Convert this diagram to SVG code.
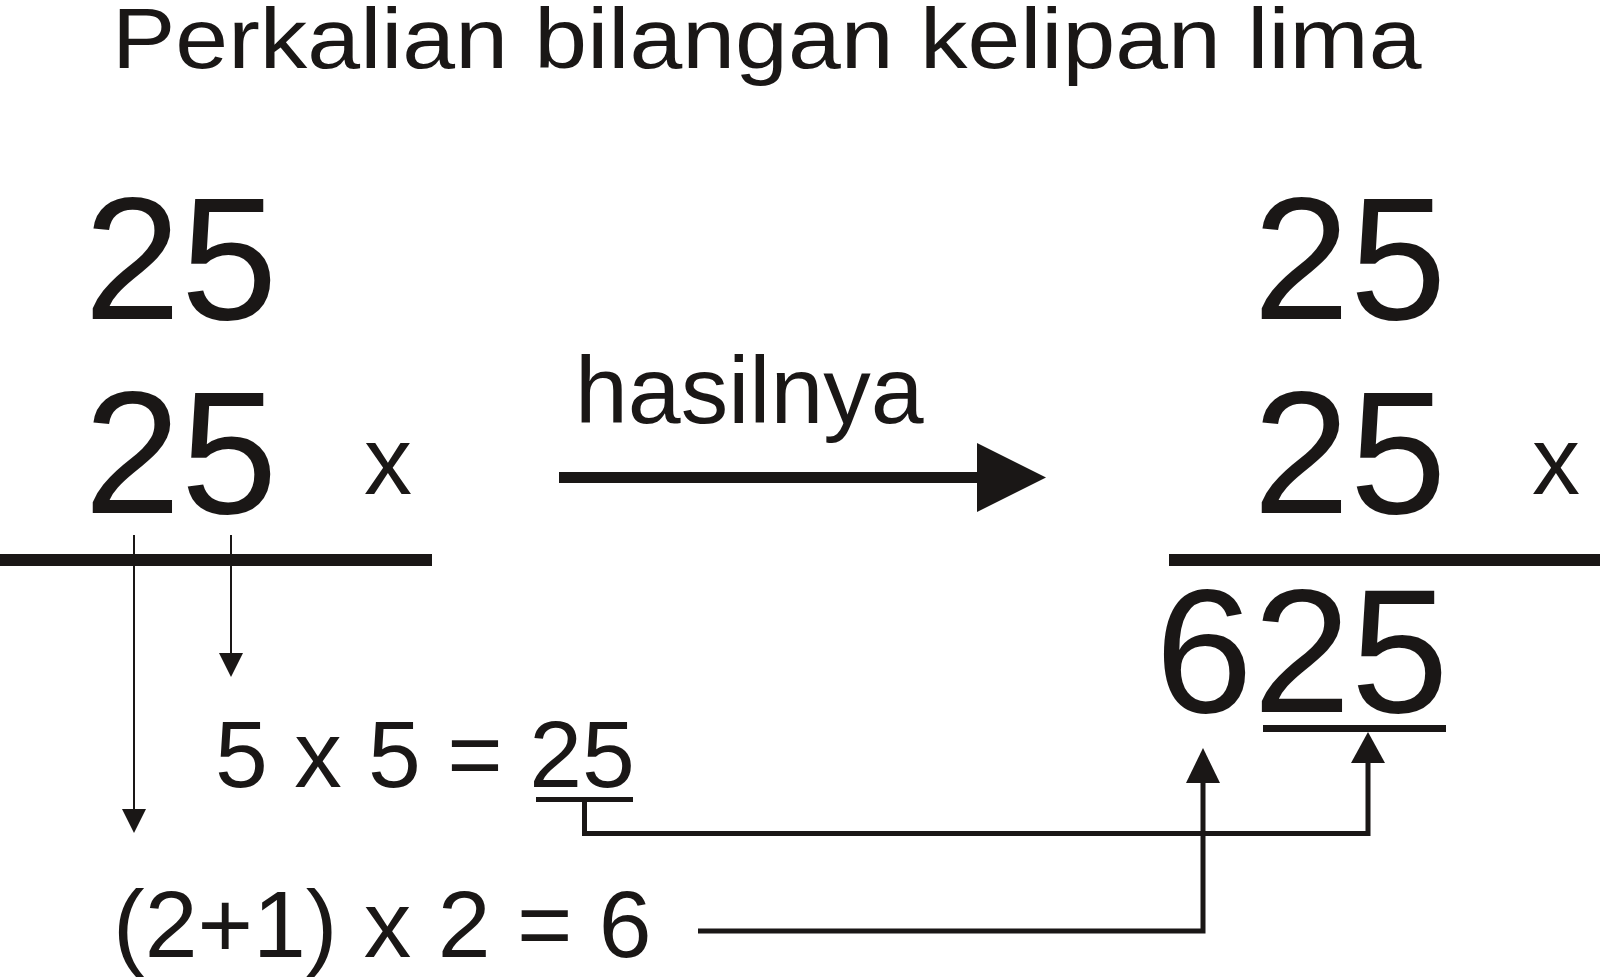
<svg xmlns="http://www.w3.org/2000/svg" width="1600" height="977" viewBox="0 0 1600 977">
<style>
.t{font-family:"Liberation Sans",Arial,sans-serif;fill:#1a1716}
.big{font-size:174px}
.mid{font-size:95px}
.ln{stroke:#1a1716;fill:none}
.ah{fill:#1a1716}
</style>
<rect width="1600" height="977" fill="#fff"/>
<g id="title"><text class="t" transform="translate(112,68) scale(1,0.9)" x="0" y="0" font-size="95">Perkalian bilangan kelipan lima</text></g>
<g id="left-sum">
<text class="t big" x="84" y="319">25</text>
<text class="t big" x="84" y="513">25</text>
<text class="t" x="364" y="494" font-size="96">x</text>
<rect x="0" y="554" width="432" height="12" fill="#1a1716"/>
</g>
<g id="right-sum">
<text class="t big" x="1253" y="319">25</text>
<text class="t big" x="1253" y="513">25</text>
<text class="t" x="1532" y="494" font-size="96">x</text>
<rect x="1169" y="554" width="431" height="12" fill="#1a1716"/>
<text class="t" x="1155" y="712" font-size="176">625</text>
<rect x="1263" y="725" width="183" height="7" fill="#1a1716"/>
</g>
<g id="result-arrow">
<text class="t mid" x="575" y="423">hasilnya</text>
<rect x="559" y="472" width="420" height="11" fill="#1a1716"/>
<polygon class="ah" points="977,443 1046,477.5 977,512"/>
</g>
<g id="step1">
<text class="t mid" x="215" y="787">5 x 5 = 25</text>
<rect x="536" y="797" width="97" height="5" fill="#1a1716"/>
</g>
<g id="step2">
<text class="t mid" x="113" y="957">(2+1) x 2 = 6</text>
</g>
<g id="connectors">
<line class="ln" x1="134" y1="535" x2="134" y2="812" stroke-width="2"/>
<polygon class="ah" points="122,809 146,809 134,833"/>
<line class="ln" x1="231" y1="535" x2="231" y2="656" stroke-width="2"/>
<polygon class="ah" points="219,653 243,653 231,677"/>
<polyline class="ln" points="584.5,802 584.5,833.5 1368,833.5 1368,760" stroke-width="5"/>
<polygon class="ah" points="1351,763 1385,763 1368,732"/>
<polyline class="ln" points="698,931 1203,931 1203,780" stroke-width="5"/>
<polygon class="ah" points="1186,783 1220,783 1203,748"/>
</g>
</svg>
